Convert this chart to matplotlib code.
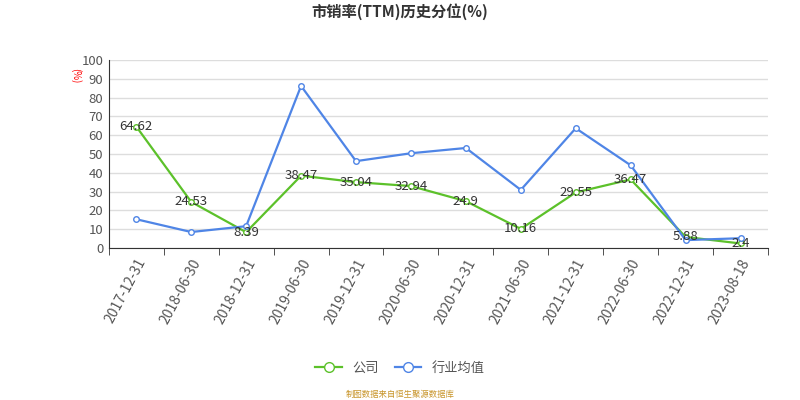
import matplotlib
matplotlib.use('Agg')
import matplotlib.pyplot as plt
import numpy as np

plt.rcParams['font.family'] = ['Noto Sans CJK SC', 'DejaVu Sans']

dates = ['2017-12-31', '2018-06-30', '2018-12-31', '2019-06-30', '2019-12-31', '2020-06-30',
         '2020-12-31', '2021-06-30', '2021-12-31', '2022-06-30', '2022-12-31', '2023-08-18']
company = [64.62, 24.53, 8.39, 38.47, 35.04, 32.94, 24.9, 10.16, 29.55, 36.47, 5.88, 2.4]
industry = [15.3, 8.5, 11.6, 86.2, 46.2, 50.4, 53.2, 30.9, 63.7, 44.0, 4.2, 5.2]

green = '#5cc12a'
blue = '#4f85e6'

fig = plt.figure(figsize=(8, 4), dpi=100)
ax = fig.add_axes([0.136, 0.38, 0.824, 0.47])

x = np.arange(len(dates))
ax.plot(x, company, color=green, lw=1.6, marker='o', ms=4, mfc='white', mec=green, mew=1, zorder=3)
ax.plot(x, industry, color=blue, lw=1.6, marker='o', ms=4, mfc='white', mec=blue, mew=1, zorder=3)
for xi, v in zip(x, company):
    ax.text(xi, v, f'{v:g}', ha='center', va='center', fontsize=9.5, color='#333333', zorder=4)

ax.set_xlim(-0.5, len(dates) - 0.5)
ax.set_ylim(0, 100)
ax.set_yticks(range(0, 101, 10))
ax.tick_params(axis='y', length=0, labelsize=9.5, colors='#555555', pad=4)
ax.yaxis.grid(True, color='#dddddd', lw=1)
ax.set_axisbelow(True)
ax.set_xticks(x)
ax.set_xticklabels(dates, rotation=62, ha='right', rotation_mode='anchor', fontsize=10, color='#555555')
ax.set_xticks(np.arange(-0.5, len(dates)), minor=True)
ax.tick_params(axis='x', which='major', length=0, pad=6)
ax.tick_params(axis='x', which='minor', length=5, color='#333333')
for s in ['top', 'right']:
    ax.spines[s].set_visible(False)
ax.spines['left'].set_color('#333333')
ax.spines['bottom'].set_color('#333333')

fig.text(0.5, 0.97, '市销率(TTM)历史分位(%)', ha='center', va='center', fontsize=11, fontweight='bold', color='#333333')
fig.text(0.094, 0.81, '(%)', ha='center', va='center', fontsize=7, color='red', rotation=-90)

h1, = ax.plot([], [], color=green, lw=1.6, marker='o', ms=7, mfc='white', mec=green)
h2, = ax.plot([], [], color=blue, lw=1.6, marker='o', ms=7, mfc='white', mec=blue)
fig.legend([h1, h2], ['公司', '行业均值'], loc='center', bbox_to_anchor=(0.5, 0.08), ncol=2,
           frameon=False, fontsize=9.5, handlelength=2.0, columnspacing=1.2, labelcolor='#555555')

fig.text(0.5, 0.013, '制图数据来自恒生聚源数据库', ha='center', va='center', fontsize=6, color='#c8952a')

fig.savefig('out.png', dpi=100)
